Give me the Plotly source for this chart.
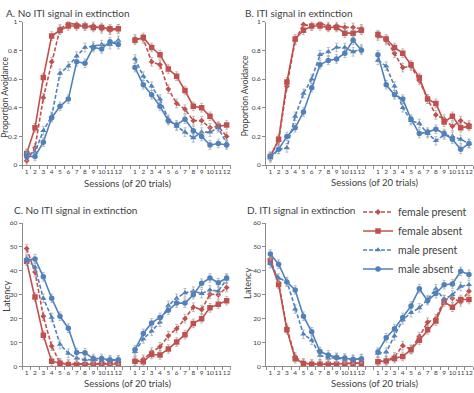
import plotly.graph_objects as go

W, H = 474, 393

sessions = list(range(1, 13))
series_names = ["female present", "female absent", "male present", "male absent"]

# ---------- Panel A: proportion avoidance, no ITI signal in extinction ----------
A_acq_fp = [0.03, 0.12, 0.47, 0.72, 0.95, 0.99, 0.98, 0.97, 0.97, 0.95, 0.94, 0.95]
A_acq_fa = [0.08, 0.26, 0.61, 0.90, 0.94, 0.97, 0.97, 0.97, 0.96, 0.96, 0.95, 0.95]
A_acq_mp = [0.08, 0.09, 0.24, 0.34, 0.64, 0.69, 0.76, 0.82, 0.83, 0.84, 0.84, 0.87]
A_acq_ma = [0.06, 0.06, 0.16, 0.33, 0.41, 0.46, 0.72, 0.71, 0.82, 0.81, 0.86, 0.84]
A_ext_fp = [0.88, 0.88, 0.72, 0.70, 0.53, 0.43, 0.39, 0.31, 0.31, 0.26, 0.27, 0.20]
A_ext_fa = [0.87, 0.89, 0.82, 0.77, 0.67, 0.62, 0.52, 0.41, 0.40, 0.34, 0.27, 0.28]
A_ext_mp = [0.74, 0.62, 0.55, 0.46, 0.32, 0.27, 0.23, 0.19, 0.23, 0.23, 0.26, 0.15]
A_ext_ma = [0.68, 0.56, 0.49, 0.41, 0.31, 0.28, 0.32, 0.24, 0.20, 0.14, 0.15, 0.14]

# ---------- Panel B: proportion avoidance, ITI signal in extinction ----------
B_acq_fp = [0.06, 0.17, 0.55, 0.87, 0.98, 0.97, 0.99, 0.97, 0.97, 0.96, 0.96, 0.95]
B_acq_fa = [0.06, 0.18, 0.58, 0.88, 0.94, 0.97, 0.97, 0.96, 0.96, 0.92, 0.92, 0.94]
B_acq_mp = [0.05, 0.11, 0.12, 0.34, 0.50, 0.60, 0.77, 0.79, 0.82, 0.82, 0.79, 0.81]
B_acq_ma = [0.06, 0.11, 0.20, 0.26, 0.37, 0.54, 0.70, 0.73, 0.74, 0.78, 0.87, 0.80]
B_ext_fp = [0.90, 0.87, 0.78, 0.68, 0.69, 0.59, 0.46, 0.35, 0.32, 0.27, 0.31, 0.28]
B_ext_fa = [0.91, 0.88, 0.82, 0.78, 0.70, 0.61, 0.46, 0.43, 0.30, 0.34, 0.26, 0.27]
B_ext_mp = [0.73, 0.69, 0.55, 0.40, 0.31, 0.29, 0.22, 0.17, 0.21, 0.20, 0.18, 0.15]
B_ext_ma = [0.77, 0.56, 0.49, 0.46, 0.32, 0.22, 0.23, 0.25, 0.22, 0.18, 0.11, 0.15]

# ---------- Panel C: latency, no ITI signal in extinction ----------
C_acq_fp = [49.3, 39.5, 21.0, 8.5, 1.5, 1.0, 1.0, 1.0, 1.2, 1.2, 1.3, 1.5]
C_acq_fa = [44.0, 29.0, 13.0, 2.2, 1.3, 0.8, 0.8, 0.8, 0.9, 1.0, 1.0, 1.0]
C_acq_mp = [45.0, 41.5, 28.5, 20.5, 9.2, 5.5, 3.5, 2.8, 2.7, 2.5, 2.5, 2.5]
C_acq_ma = [44.5, 45.0, 37.5, 28.5, 21.0, 16.0, 5.8, 5.7, 3.3, 3.3, 2.8, 2.8]
C_ext_fp = [2.2, 3.0, 6.0, 8.2, 12.8, 15.8, 20.0, 24.8, 23.8, 30.2, 30.0, 33.0]
C_ext_fa = [2.2, 2.0, 5.0, 4.8, 7.3, 10.2, 13.3, 18.0, 20.0, 24.5, 26.0, 27.5]
C_ext_mp = [6.2, 11.5, 14.8, 18.5, 25.5, 28.5, 30.8, 31.5, 30.5, 32.0, 31.5, 36.5]
C_ext_ma = [7.0, 13.8, 18.2, 20.5, 23.5, 26.5, 26.5, 30.0, 34.8, 37.0, 35.0, 37.0]

# ---------- Panel D: latency, ITI signal in extinction ----------
D_acq_fp = [45.0, 35.0, 16.0, 4.0, 1.5, 1.0, 1.0, 1.0, 1.0, 1.3, 1.4, 1.5]
D_acq_fa = [44.0, 34.3, 15.3, 3.2, 1.2, 0.9, 0.9, 0.9, 0.9, 1.0, 1.2, 1.3]
D_acq_mp = [43.0, 37.0, 35.5, 24.0, 13.5, 11.0, 4.6, 3.5, 3.5, 3.0, 2.8, 3.3]
D_acq_ma = [47.0, 42.8, 35.3, 32.0, 21.0, 14.5, 6.2, 4.8, 3.8, 3.5, 3.0, 3.2]
D_ext_fp = [2.0, 2.5, 4.0, 8.7, 7.2, 12.5, 18.5, 20.0, 28.0, 28.5, 27.0, 31.5]
D_ext_fa = [2.0, 2.3, 3.3, 4.2, 7.0, 11.0, 15.3, 19.0, 27.0, 24.8, 28.0, 28.0]
D_ext_mp = [5.5, 6.0, 12.8, 19.5, 22.5, 24.5, 28.0, 32.5, 28.0, 30.0, 33.5, 34.2]
D_ext_ma = [6.0, 12.0, 15.8, 20.5, 25.3, 32.5, 27.5, 30.5, 34.2, 34.5, 39.8, 38.5]

prop_ticks = [0, 0.2, 0.4, 0.6, 0.8, 1]
prop_labels = ["0", "0.2", "0.4", "0.6", "0.8", "1"]
lat_ticks = [0, 10, 20, 30, 40, 50, 60]
lat_labels = ["0", "10", "20", "30", "40", "50", "60"]

RED = "#C0504D"
BLUE = "#4F81BD"
TXT = "#404040"
AX = "#8C8C8C"
FONT = "Lato"

styles = {
    "female present": dict(color=RED, dash="dash", symbol="diamond", size=4.5),
    "female absent": dict(color=RED, dash="solid", symbol="square", size=5.5),
    "male present": dict(color=BLUE, dash="dash", symbol="triangle-up", size=5.5),
    "male absent": dict(color=BLUE, dash="solid", symbol="circle", size=5.5),
}

# x positions: acquisition sessions, one empty category, extinction sessions
x_pos = sessions + [len(sessions) + 1] + [len(sessions) + 1 + s for s in sessions]
x_text = [str(s) for s in sessions] + [""] + [str(s) for s in sessions]

panels = [
    ("x", "y", [A_acq_fp, A_acq_fa, A_acq_mp, A_acq_ma], [A_ext_fp, A_ext_fa, A_ext_mp, A_ext_ma], 0.03),
    ("x2", "y2", [B_acq_fp, B_acq_fa, B_acq_mp, B_acq_ma], [B_ext_fp, B_ext_fa, B_ext_mp, B_ext_ma], 0.03),
    ("x3", "y3", [C_acq_fp, C_acq_fa, C_acq_mp, C_acq_ma], [C_ext_fp, C_ext_fa, C_ext_mp, C_ext_ma], 1.8),
    ("x4", "y4", [D_acq_fp, D_acq_fa, D_acq_mp, D_acq_ma], [D_ext_fp, D_ext_fa, D_ext_mp, D_ext_ma], 1.8),
]

fig = go.Figure()
for pi, (xa, ya, acq, ext, err) in enumerate(panels):
    for name, a, e in zip(series_names, acq, ext):
        st = styles[name]
        yv = list(a) + [None] + list(e)
        fig.add_trace(go.Scatter(
            x=x_pos, y=yv, xaxis=xa, yaxis=ya, name=name,
            mode="lines+markers", connectgaps=False,
            legendgroup=name, showlegend=(pi == 3),
            line=dict(color=st["color"], dash=st["dash"] if st["dash"] == "solid" else "4px,2px", width=1.6),
            marker=dict(symbol=st["symbol"], size=st["size"], color=st["color"]),
            error_y=dict(type="constant", value=err, color="#A0A0A0", thickness=0.7, width=1.5),
        ))

def px_x(p):
    return p / W

def px_y(p):
    return (H - p) / H

xdom_left = [px_x(22.5), px_x(230.8)]
xdom_right = [px_x(266.2), px_x(473.1)]
ydom_top = [px_y(164), px_y(18)]
ydom_bot = [px_y(369), px_y(223)]

xcommon = dict(
    range=[0.5, len(x_pos) + 0.5], tickmode="array", tickvals=x_pos, ticktext=x_text,
    ticks="", tickangle=0, showgrid=False, zeroline=False, showline=True, linecolor=AX, linewidth=1,
    tickfont=dict(size=6.5, color=TXT, family=FONT),
    minor=dict(tickmode="array", tickvals=[p + 0.5 for p in [0] + x_pos], ticks="outside",
               ticklen=3, tickcolor=AX, tickwidth=1),
)
ycommon = dict(showgrid=False, zeroline=False, showline=True, linecolor=AX, linewidth=1,
               ticks="outside", ticklen=3, tickcolor=AX, tickfont=dict(size=6.5, color=TXT, family=FONT))

fig.update_layout(
    width=W, height=H, margin=dict(l=0, r=0, t=0, b=0),
    paper_bgcolor="white", plot_bgcolor="white",
    font=dict(family=FONT, color=TXT),
    xaxis=dict(domain=xdom_left, anchor="y", **xcommon),
    xaxis2=dict(domain=xdom_right, anchor="y2", **xcommon),
    xaxis3=dict(domain=xdom_left, anchor="y3", **xcommon),
    xaxis4=dict(domain=xdom_right, anchor="y4", **xcommon),
    yaxis=dict(domain=ydom_top, anchor="x", range=[0, 1], tickvals=prop_ticks, ticktext=prop_labels, **ycommon),
    yaxis2=dict(domain=ydom_top, anchor="x2", range=[0, 1], tickvals=prop_ticks, ticktext=prop_labels, **ycommon),
    yaxis3=dict(domain=ydom_bot, anchor="x3", range=[0, 60], tickvals=lat_ticks, ticktext=lat_labels, **ycommon),
    yaxis4=dict(domain=ydom_bot, anchor="x4", range=[0, 60], tickvals=lat_ticks, ticktext=lat_labels, **ycommon),
    legend=dict(x=px_x(358), xanchor="left", y=px_y(197), yanchor="top", bgcolor="rgba(0,0,0,0)",
                font=dict(size=10.5, color=TXT, family=FONT), itemwidth=30, tracegroupgap=0,
                borderwidth=0),
    showlegend=True,
)

def ann(text, x, y, size, xanchor="center", angle=0):
    fig.add_annotation(text=text, x=px_x(x), y=px_y(y), xref="paper", yref="paper",
                       xanchor=xanchor, yanchor="middle", showarrow=False, textangle=angle,
                       font=dict(size=size, color=TXT, family=FONT))

ann("A. No ITI signal in extinction", 4, 9, 10, "left")
ann("B. ITI signal in extinction", 243, 9, 10, "left")
ann("C. No ITI signal in extinction", 12, 210, 10, "left")
ann("D. ITI signal in extinction", 245, 210, 10, "left")
ann("Sessions (of 20 trials)", 127, 183, 9.5)
ann("Sessions (of 20 trials)", 374, 182, 9.5)
ann("Sessions (of 20 trials)", 127, 386, 9.5)
ann("Sessions (of 20 trials)", 374, 386, 9.5)
ann("Proportion Avoidance", 5.5, 95, 8.5, angle=-90)
ann("Proportion Avoidance", 245, 94, 8.5, angle=-90)
ann("Latency", 7, 298, 9, angle=-90)
ann("Latency", 248, 285, 9, angle=-90)

fig.write_html("out.html", config={"displayModeBar": False},
               post_script="document.body.style.margin='0px';")
